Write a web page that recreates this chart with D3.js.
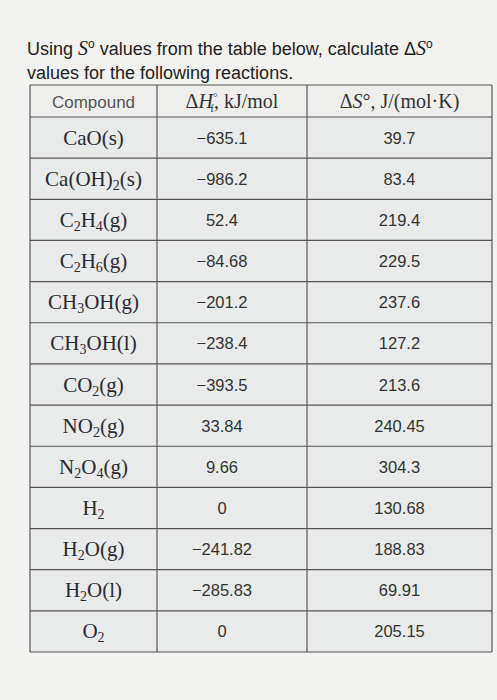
<!DOCTYPE html>
<html><head><meta charset="utf-8">
<script src="https://cdn.jsdelivr.net/npm/d3@7"></script>
<style>body{margin:0;background:#f2f2f0;}</style></head>
<body><svg id="c" width="497" height="700"></svg>
<script>
const compounds = [
  [["CaO(s)",0]],
  [["Ca(OH)",0],["2",1],["(s)",0]],
  [["C",0],["2",1],["H",0],["4",1],["(g)",0]],
  [["C",0],["2",1],["H",0],["6",1],["(g)",0]],
  [["CH",0],["3",1],["OH(g)",0]],
  [["CH",0],["3",1],["OH(l)",0]],
  [["CO",0],["2",1],["(g)",0]],
  [["NO",0],["2",1],["(g)",0]],
  [["N",0],["2",1],["O",0],["4",1],["(g)",0]],
  [["H",0],["2",1]],
  [["H",0],["2",1],["O(g)",0]],
  [["H",0],["2",1],["O(l)",0]],
  [["O",0],["2",1]]
];
const dH = ["\u2212635.1","\u2212986.2","52.4","\u221284.68","\u2212201.2","\u2212238.4","\u2212393.5","33.84","9.66","0","\u2212241.82","\u2212285.83","0"];
const dS = ["39.7","83.4","219.4","229.5","237.6","127.2","213.6","240.45","304.3","130.68","188.83","69.91","205.15"];
const columns = ["Compound","dH","dS"];

const svg = d3.select("#c");
svg.append("rect").attr("width",497).attr("height",700).attr("fill","#f2f2f0");
const sans = "Liberation Sans, Arial, sans-serif", serif = "Liberation Serif, DejaVu Serif, serif";
const t = svg.append("text").attr("x",27).attr("y",55).attr("font-family",sans).attr("font-size",18).attr("fill","#222");
t.append("tspan").text("Using ");
t.append("tspan").attr("font-family",serif).attr("font-style","italic").attr("font-size",20).text("S");
t.append("tspan").attr("dy",-7).attr("font-size",12).text("o");
t.append("tspan").attr("dy",7).text(" values from the table below, calculate \u0394");
t.append("tspan").attr("font-family",serif).attr("font-style","italic").attr("font-size",20).text("S");
t.append("tspan").attr("dy",-7).attr("font-size",12).text("o");
svg.append("text").attr("x",27).attr("y",79).attr("font-family",sans).attr("font-size",18).attr("fill","#222").text("values for the following reactions.");

const x = d3.scaleOrdinal().domain(columns).range([30,157,307]);
const xr = {Compound:157, dH:307, dS:492};
const y = d3.scaleBand().domain(d3.range(compounds.length)).range([117,652]);
const g = svg.append("g");
g.append("rect").attr("x",30).attr("y",85).attr("width",462).attr("height",567).attr("fill","#e8ebe9");
g.append("rect").attr("x",30).attr("y",85).attr("width",462).attr("height",32).attr("fill","#eeefed");
const hy = [85].concat(d3.range(compounds.length).map(i=>y(i)), [652]);
g.selectAll("line.h").data(hy).join("line").attr("x1",30).attr("x2",492).attr("y1",d=>d).attr("y2",d=>d).attr("stroke","#555").attr("stroke-width",1.2);
g.selectAll("line.v").data([30,157,307,492]).join("line").attr("x1",d=>d).attr("x2",d=>d).attr("y1",85).attr("y2",652).attr("stroke","#555").attr("stroke-width",1.2);
const cx = c=> (x(c)+xr[c])/2;
g.append("text").attr("x",cx("Compound")).attr("y",108).attr("text-anchor","middle").attr("font-family",sans).attr("font-size",17).attr("fill","#555").text("Compound");
const h2 = g.append("text").attr("x",cx("dH")).attr("y",108).attr("text-anchor","middle").attr("font-family",serif).attr("font-size",20).attr("fill","#333");
h2.append("tspan").text("\u0394");h2.append("tspan").attr("font-style","italic").text("H");
h2.append("tspan").attr("dy",-7).attr("font-size",11).text("\u00b0");
h2.append("tspan").attr("dy",11).attr("dx",-7).attr("font-size",11).text("f");
h2.append("tspan").attr("dy",-4).text(", kJ/mol");
const h3 = g.append("text").attr("x",cx("dS")).attr("y",108).attr("text-anchor","middle").attr("font-family",serif).attr("font-size",20).attr("fill","#333");
h3.append("tspan").text("\u0394");h3.append("tspan").attr("font-style","italic").text("S");
h3.append("tspan").text("\u00b0, J/(mol\u00b7K)");
compounds.forEach((segs,i)=>{
  const cy = y(i)+y.bandwidth()/2+7;
  const tx = g.append("text").attr("x",cx("Compound")).attr("y",cy).attr("text-anchor","middle").attr("font-family",serif).attr("font-size",21).attr("fill","#2a2a35");
  let sub=false;
  segs.forEach(([s,isSub])=>{
    const sp = tx.append("tspan").text(s);
    if(isSub && !sub){sp.attr("dy",4).attr("font-size",14);sub=true;}
    else if(isSub){sp.attr("font-size",14);}
    else if(sub){sp.attr("dy",-4);sub=false;}
  });
  g.append("text").attr("x",cx("dH")-10).attr("y",cy-1).attr("text-anchor","middle").attr("font-family",sans).attr("font-size",16.5).attr("fill","#333").text(dH[i]);
  g.append("text").attr("x",cx("dS")).attr("y",cy-1).attr("text-anchor","middle").attr("font-family",sans).attr("font-size",16.5).attr("fill","#333").text(dS[i]);
});
</script></body></html>
